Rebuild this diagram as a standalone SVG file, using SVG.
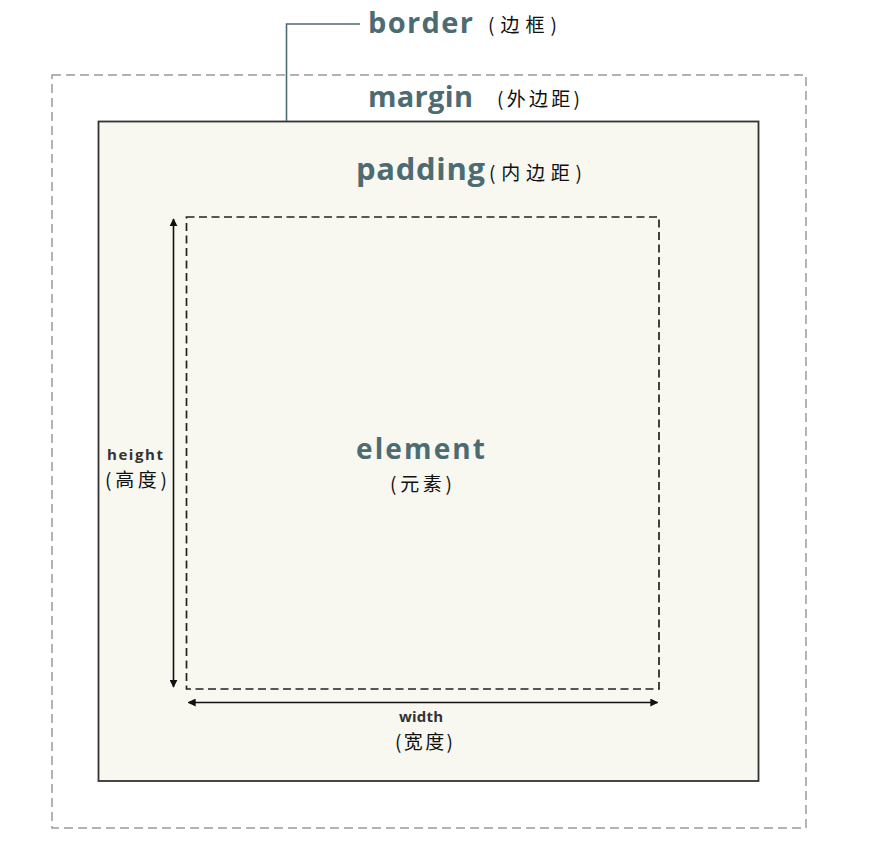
<svg xmlns="http://www.w3.org/2000/svg" width="886" height="861" viewBox="0 0 886 861">
<style>
.lbl{font-family:"Open Sans",Lato,"Liberation Sans",sans-serif;font-weight:700;fill:#4d6b72}
.cn{font-family:"Noto Sans CJK SC","Liberation Sans",sans-serif;font-size:19px;fill:#111}
.dim{font-family:"Open Sans",Lato,"Liberation Sans",sans-serif;font-weight:700;font-size:15px;fill:#333}
.arrow{stroke:#111;stroke-width:1.6;fill:none}
</style>
<defs>
<marker id="ah" viewBox="0 0 10 10" refX="9" refY="5" markerWidth="8" markerHeight="8" markerUnits="userSpaceOnUse" orient="auto-start-reverse">
<path d="M0,0 L10,5 L0,10 z" fill="#111"/>
</marker>
</defs>
<rect width="886" height="861" fill="#ffffff"/>
<g id="margin">
<rect x="52" y="75" width="754" height="753" fill="none" stroke="#9a9a9a" stroke-width="1.5" stroke-dasharray="9 5"/>
<text class="lbl" x="368" y="107" font-size="29" textLength="105" lengthAdjust="spacing">margin</text>
<text class="cn" x="497" y="106" textLength="83" lengthAdjust="spacing">(外边距)</text>
</g>
<g id="border">
<rect x="98.5" y="121.5" width="660" height="659.5" fill="#f8f8f0" stroke="#333" stroke-width="1.8"/>
<text class="lbl" x="368" y="33" font-size="29" textLength="105" lengthAdjust="spacing">border</text>
<text class="cn" x="488" y="32" textLength="69" lengthAdjust="spacing">(边框)</text>
</g>
<g id="padding">
<text class="lbl" x="356" y="180" font-size="31" textLength="129" lengthAdjust="spacing">padding</text>
<text class="cn" x="489" y="180" textLength="93" lengthAdjust="spacing">(内边距)</text>
</g>
<g id="element">
<rect x="186.5" y="217" width="472.5" height="472" fill="none" stroke="#222" stroke-width="1.7" stroke-dasharray="8 4.5"/>
<text class="lbl" x="356" y="459" font-size="28" textLength="129" lengthAdjust="spacing">element</text>
<text class="cn" x="390" y="491" font-size="18" textLength="62" lengthAdjust="spacing">(元素)</text>
</g>
<g id="height">
<text class="dim" x="107" y="460" textLength="56" lengthAdjust="spacing">height</text>
<text class="cn" x="105" y="487" font-size="18" textLength="62" lengthAdjust="spacing">(高度)</text>
</g>
<g id="width">
<text class="dim" x="399" y="722" textLength="44" lengthAdjust="spacing">width</text>
<text class="cn" x="395" y="749" font-size="18" textLength="58" lengthAdjust="spacing">(宽度)</text>
</g>
<g id="connectors">
<polyline points="286.5,121 286.5,24 360,24" fill="none" stroke="#4d6b72" stroke-width="1.6"/>
<line class="arrow" x1="173.5" y1="219" x2="173.5" y2="687" marker-start="url(#ah)" marker-end="url(#ah)"/>
<line class="arrow" x1="188.5" y1="702.5" x2="657.5" y2="702.5" marker-start="url(#ah)" marker-end="url(#ah)"/>
</g>
</svg>
